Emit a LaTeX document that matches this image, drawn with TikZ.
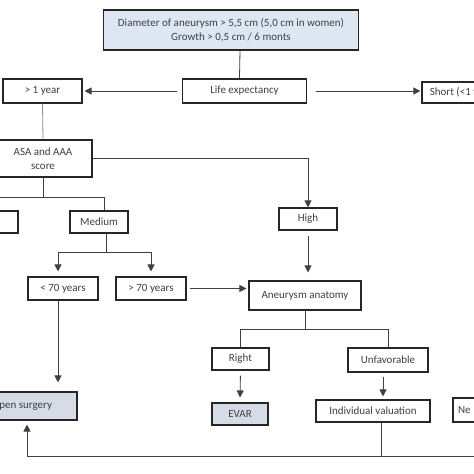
\documentclass[tikz,border=0pt]{standalone}
\usepackage{fontspec}
\setmainfont{Carlito}
\usetikzlibrary{arrows.meta,calc}
\definecolor{topfill}{RGB}{221,231,243}
\definecolor{endfill}{RGB}{213,220,230}
\begin{document}
\begin{tikzpicture}[x=1pt,y=-1pt,
 box/.style={draw=black!85, line width=1.1pt, inner sep=0pt, font=\fontsize{11}{13.5}\selectfont, text=black!75, align=center},
 conn/.style={draw=black!75, line width=0.8pt},
 arr/.style={conn, -{Triangle[length=7pt,width=7pt]}}]
\useasboundingbox (0,0) rectangle (474,474);
\clip (0,0) rectangle (474,474);
\fill[white] (0,0) rectangle (474,474);

% nodes
\node[box, fill=topfill, minimum width=255, minimum height=40] (top) at (231,30) {Diameter of aneurysm > 5,5 cm (5,0 cm in women)\\Growth > 0,5 cm / 6 monts};
\node[box, minimum width=124, minimum height=24] (life) at (244.5,91) {Life expectancy};
\node[box, minimum width=79, minimum height=24] (year) at (42.5,91) {> 1 year};
\node[box, minimum width=82, minimum height=21] (short) at (463,92.5) {Short (<1 year)};
\node[box, minimum width=98, minimum height=37] (asa) at (43,158.5) {ASA and AAA\\score};
\node[box, minimum width=58, minimum height=22] (low) at (-11,222) {};
\node[box, minimum width=58, minimum height=22] (medium) at (99,222) {Medium};
\node[box, minimum width=58, minimum height=22] (high) at (308,219) {High};
\node[box, minimum width=70, minimum height=23] (lt) at (63,288.5) {< 70 years};
\node[box, minimum width=70, minimum height=23] (gt) at (151,288.5) {> 70 years};
\node[box, minimum width=112, minimum height=29] (anat) at (305,295.5) {Aneurysm anatomy};
\node[box, minimum width=57, minimum height=22] (right) at (240.5,359) {Right};
\node[box, minimum width=80, minimum height=24] (unfav) at (388,360) {Unfavorable};
\node[box, fill=endfill, minimum width=56, minimum height=22] (evar) at (240,414) {EVAR};
\node[box, minimum width=114, minimum height=22] (iv) at (373,411) {Individual valuation};
\node[box, fill=endfill, minimum width=110, minimum height=28] (open) at (22,406) {Open surgery};
\node[box, minimum width=60, minimum height=24, text width=50, align=left] (ne) at (483,410) {Ne};
\coordinate (rightend) at (480,456);

% helper points
\coordinate (topout) at ($(top.south)+(9,0)$);
\coordinate (lifein) at ($(life.north)+(-5,0)$);
\coordinate (medin) at ($(medium.north)+(5,0)$);
\coordinate (medout) at ($(medium.south)+(7,0)$);
\coordinate (ltin) at ($(lt.north)+(-5,0)$);
\coordinate (ltout) at ($(lt.south)+(-5,0)$);
\coordinate (unfout) at ($(unfav.south)+(-5,0)$);
\coordinate (ivout) at ($(iv.south)+(8,0)$);
\coordinate (openin) at ($(open.south)+(5,0)$);

% connectors
\draw[conn] (topout) -- (lifein);
\draw[arr, shorten <=5pt, shorten >=2pt] (life.west) -- (year.east);
\draw[arr, shorten <=9pt, shorten >=1pt] (life.east) -- (life.east -| short.west);
\draw[conn, black!45] (year.south) -- (asa.north);
\draw[arr] (asa.east) -| (high.north);
\draw[conn] (asa.south) -- ++(0,20) coordinate (asaj);
\draw[conn] (low.north) |- (asaj) -| (medin);
\draw[conn] (medout) -- ++(0,19) coordinate (medj);
\draw[arr, shorten >=5pt] (medj) -| (ltin);
\draw[arr, shorten >=5pt] (medj) -| (gt.north);
\draw[arr, shorten <=3pt, shorten >=2pt] (gt.east) -- (gt.east -| anat.west);
\draw[arr, shorten <=5pt, shorten >=8pt] (high.south) -- (high.south |- anat.north);
\draw[conn] (anat.south) -- ++(0,19) coordinate (anaj);
\draw[conn] (right.north) |- (anaj) -| (unfav.north);
\draw[arr, shorten <=5pt, shorten >=5pt] (right.south) -- (evar.north);
\draw[arr, shorten <=4pt, shorten >=3pt] (unfout) -- (unfout |- iv.north);
\draw[arr, shorten >=9pt] (ltout) -- (ltout |- open.north);
\draw[conn] (ivout) -- (ivout |- rightend);
\draw[arr, shorten >=4pt] (rightend) -| (openin);
\end{tikzpicture}
\end{document}
